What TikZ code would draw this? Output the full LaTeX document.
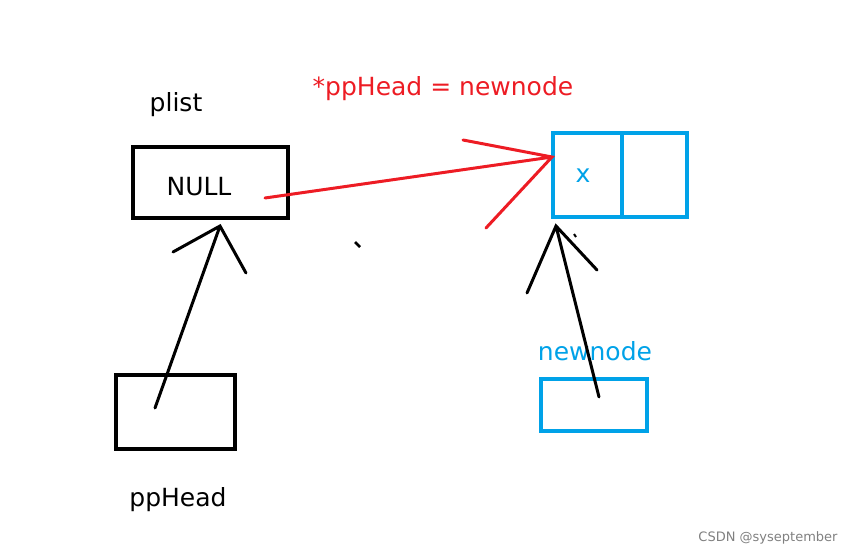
\documentclass[tikz,border=0pt]{standalone}
\usepackage{fontspec}
\setmainfont{DejaVu Sans}
\definecolor{myred}{RGB}{237,28,36}
\definecolor{myblue}{RGB}{0,162,232}
\begin{document}
\begin{tikzpicture}[x=1pt,y=-1pt,
  stroke/.style={line width=3pt,line cap=round},
  lbl/.style={font=\fontsize{25}{27}\selectfont,inner sep=0pt}]
\useasboundingbox (0,0) rectangle (863,556);
% plist
\node[lbl] (plistlbl) at (176,105) {plist};
\node[draw,line width=3.5pt,minimum width=155pt,minimum height=71pt,inner sep=0pt] (plist) at (210.5,182.5) {};
\node[lbl] (null) at (199,187) {NULL};
% ppHead
\node[draw,line width=3.5pt,minimum width=119pt,minimum height=74pt,inner sep=0pt] (pphead) at (175.5,412) {};
\node[lbl] (ppheadlbl) at (178,500) {ppHead};
\coordinate (a1s) at (155,408);
\coordinate (a1e) at (220,226);
\coordinate (a1l) at (173,252);
\coordinate (a1r) at (246,273);
\draw[stroke] (a1s) -- (a1e) (a1l) -- (a1e) -- (a1r);
% new node
\node[draw=myblue,line width=3.5pt,minimum width=134pt,minimum height=84pt,inner sep=0pt] (nn) at (620,175) {};
\draw[myblue,line width=3.5pt] (622,133) -- (622,217);
\node[lbl,text=myblue] (x) at (583,176) {x};
\node[lbl,text=myblue] (nnlbl) at (595,351) {newnode};
\node[draw=myblue,line width=3.5pt,minimum width=106pt,minimum height=52pt,inner sep=0pt] (nnp) at (594,405) {};
\coordinate (a2s) at (599,397);
\coordinate (a2e) at (556,226);
\coordinate (a2l) at (527,293);
\coordinate (a2r) at (597,270);
\draw[stroke] (a2s) -- (a2e) (a2l) -- (a2e) -- (a2r);
% red
\node[lbl,text=myred] (eq) at (443,89) {*ppHead = newnode};
\coordinate (r1s) at (265,198);
\coordinate (r1e) at (552,157);
\coordinate (r1l) at (463,140);
\coordinate (r1r) at (486,228);
\draw[stroke,myred] (r1s) -- (r1e) (r1l) -- (r1e) -- (r1r);
% specks
\draw[line width=2.5pt] (355,242) -- (360,247);
\draw[line width=2pt] (574,234) -- (576,237);
\node[text=gray,font=\fontsize{13}{15}\selectfont,inner sep=0pt] (wm) at (768,538) {CSDN @syseptember};
\end{tikzpicture}
\end{document}
